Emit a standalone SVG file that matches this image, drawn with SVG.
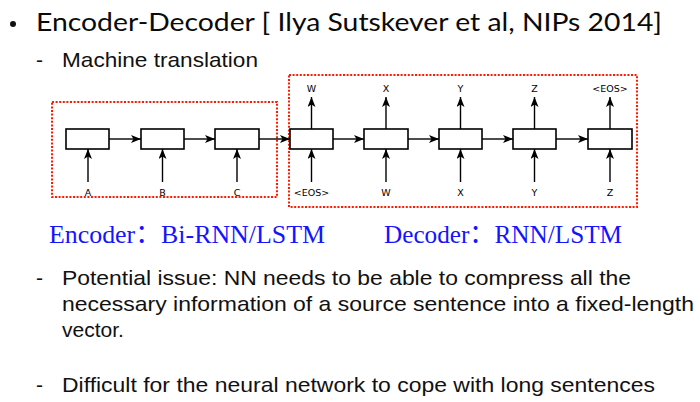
<svg xmlns="http://www.w3.org/2000/svg" width="700" height="402" viewBox="0 0 700 402">
<style>
.title{font-family:"Lato","Open Sans","Liberation Sans",sans-serif;font-size:25px;fill:#0a0a0a}
.body{font-family:"Liberation Sans","Noto Sans",sans-serif;font-size:21px;fill:#111}
.blue{font-family:"Liberation Serif","Noto Sans CJK SC",serif;font-size:26px;fill:#1414ff}
.lbl{font-family:"DejaVu Sans",sans-serif;font-size:9.5px;fill:#000;text-anchor:middle}
.cell{fill:#fff;stroke:#000;stroke-width:1.6}
.edge{stroke:#000;stroke-width:1.4;fill:none;marker-end:url(#ah)}
.grp{fill:none;stroke:#ff1a00;stroke-width:2;stroke-dasharray:2 1.6}
</style>
<defs>
<marker id="ah" viewBox="0 0 10 8" refX="10" refY="4" markerWidth="10" markerHeight="8" markerUnits="userSpaceOnUse" orient="auto">
<path d="M0,0 L10,4 L0,8 L2.5,4 Z" fill="#000"/>
</marker>
</defs>
<rect width="700" height="402" fill="#fff"/>
<g id="heading">
<circle cx="13" cy="24" r="3" fill="#111"/>
<text class="title" x="36" y="31" textLength="626" lengthAdjust="spacingAndGlyphs">Encoder-Decoder [ Ilya Sutskever et al, NIPs 2014]</text>
<text class="body" x="36" y="67">-</text>
<text class="body" x="62" y="67" textLength="196" lengthAdjust="spacingAndGlyphs">Machine translation</text>
</g>
<g id="groups">
<rect id="encoder-group" class="grp" x="52" y="102" width="225" height="95"/>
<rect id="decoder-group" class="grp" x="289" y="75" width="348" height="132"/>
</g>
<g id="connectors">
<line class="edge" x1="109" y1="139" x2="141" y2="139"/>
<line class="edge" x1="184" y1="139" x2="215" y2="139"/>
<line class="edge" x1="259" y1="139" x2="290" y2="139"/>
<line class="edge" x1="333" y1="139" x2="364" y2="139"/>
<line class="edge" x1="408" y1="139" x2="439" y2="139"/>
<line class="edge" x1="482" y1="139" x2="513" y2="139"/>
<line class="edge" x1="556" y1="139" x2="588" y2="139"/>
<line class="edge" x1="88" y1="182" x2="88" y2="149"/>
<line class="edge" x1="162.5" y1="182" x2="162.5" y2="149"/>
<line class="edge" x1="237" y1="182" x2="237" y2="149"/>
<line class="edge" x1="311.5" y1="182" x2="311.5" y2="149"/>
<line class="edge" x1="386" y1="182" x2="386" y2="149"/>
<line class="edge" x1="460.5" y1="182" x2="460.5" y2="149"/>
<line class="edge" x1="534.5" y1="182" x2="534.5" y2="149"/>
<line class="edge" x1="610" y1="182" x2="610" y2="149"/>
<line class="edge" x1="311.5" y1="129" x2="311.5" y2="97"/>
<line class="edge" x1="386" y1="129" x2="386" y2="97"/>
<line class="edge" x1="460.5" y1="129" x2="460.5" y2="97"/>
<line class="edge" x1="534.5" y1="129" x2="534.5" y2="97"/>
<line class="edge" x1="610" y1="129" x2="610" y2="97"/>
</g>
<g id="enc1"><rect class="cell" x="66" y="129" width="43" height="20"/><text class="lbl" x="88" y="196">A</text></g>
<g id="enc2"><rect class="cell" x="141" y="129" width="43" height="20"/><text class="lbl" x="162.5" y="196">B</text></g>
<g id="enc3"><rect class="cell" x="215" y="129" width="44" height="20"/><text class="lbl" x="237" y="196">C</text></g>
<g id="dec1"><rect class="cell" x="290" y="129" width="43" height="20"/><text class="lbl" x="311.5" y="196">&lt;EOS&gt;</text><text class="lbl" x="311.5" y="92">W</text></g>
<g id="dec2"><rect class="cell" x="364" y="129" width="44" height="20"/><text class="lbl" x="386" y="196">W</text><text class="lbl" x="386" y="92">X</text></g>
<g id="dec3"><rect class="cell" x="439" y="129" width="43" height="20"/><text class="lbl" x="460.5" y="196">X</text><text class="lbl" x="460.5" y="92">Y</text></g>
<g id="dec4"><rect class="cell" x="513" y="129" width="43" height="20"/><text class="lbl" x="534.5" y="196">Y</text><text class="lbl" x="534.5" y="92">Z</text></g>
<g id="dec5"><rect class="cell" x="588" y="129" width="44" height="20"/><text class="lbl" x="610" y="196">Z</text><text class="lbl" x="610" y="92">&lt;EOS&gt;</text></g>
<g id="captions">
<text class="blue" x="49" y="243" textLength="276" lengthAdjust="spacingAndGlyphs">Encoder：Bi-RNN/LSTM</text>
<text class="blue" x="384" y="243" textLength="238" lengthAdjust="spacingAndGlyphs">Decoder：RNN/LSTM</text>
</g>
<g id="notes">
<text class="body" x="36" y="285">-</text>
<text class="body" x="62" y="285" textLength="569" lengthAdjust="spacingAndGlyphs">Potential issue: NN needs to be able to compress all the</text>
<text class="body" x="62" y="311" textLength="632" lengthAdjust="spacingAndGlyphs">necessary information of a source sentence into a fixed-length</text>
<text class="body" x="62" y="337">vector.</text>
<text class="body" x="36" y="392">-</text>
<text class="body" x="62" y="392" textLength="593" lengthAdjust="spacingAndGlyphs">Difficult for the neural network to cope with long sentences</text>
</g>
</svg>
